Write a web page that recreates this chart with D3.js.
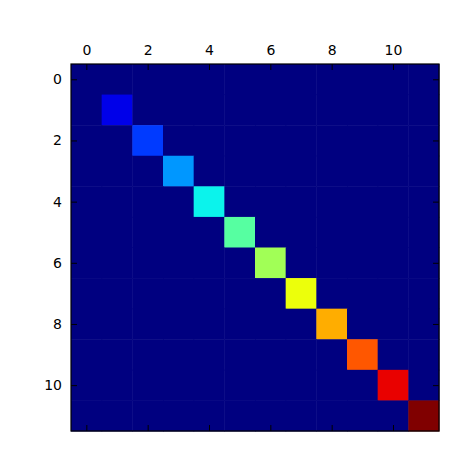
<!DOCTYPE html><html><head><script src="https://cdn.jsdelivr.net/npm/d3@7"></script>
<style>body{margin:0;background:#fff}</style></head><body><svg id="c" width="474" height="474"></svg>
<script>
const n = 12;
const diagValues = [0,1,2,3,4,5,6,7,8,9,10,11];
const tickValues = [0,2,4,6,8,10];
const matrix = [];
for (let r=0;r<n;r++) for (let c=0;c<n;c++) matrix.push({r,c,v: r===c ? diagValues[r] : 0});
function seg(pts,x){for(let i=1;i<pts.length;i++){if(x<=pts[i][0]){const [x0,y0]=pts[i-1],[x1,y1]=pts[i];return y0+(y1-y0)*(x-x0)/(x1-x0);}}return pts[pts.length-1][1];}
function jet(t){
  const r=seg([[0,0],[0.35,0],[0.66,1],[0.89,1],[1,0.5]],t);
  const g=seg([[0,0],[0.125,0],[0.375,1],[0.64,1],[0.91,0],[1,0]],t);
  const b=seg([[0,0.5],[0.11,1],[0.34,1],[0.65,0],[1,0]],t);
  return d3.rgb(r*255,g*255,b*255).toString();
}
const L=71,T=64,W=368,H=367;
const svg=d3.select('#c');
const x=d3.scaleLinear().domain([-0.5,n-0.5]).range([L,L+W]);
const y=d3.scaleLinear().domain([-0.5,n-0.5]).range([T,T+H]);
const col=d3.scaleLinear().domain([0,11]).range([0,1]);
svg.selectAll('rect.cell').data(matrix).join('rect').attr('x',d=>x(d.c-0.5)).attr('y',d=>y(d.r-0.5))
  .attr('width',x(1)-x(0)+0.5).attr('height',y(1)-y(0)+0.5).attr('fill',d=>jet(col(d.v)));
const fs='14px "DejaVu Sans"';
const ax=d3.axisTop(x).tickValues(tickValues).tickSize(-6).tickPadding(9);
const g1=svg.append('g').attr('transform',`translate(0,${T})`).call(ax);
const ab=d3.axisBottom(x).tickValues(tickValues).tickSize(-6).tickFormat('');
const g2=svg.append('g').attr('transform',`translate(0,${T+H})`).call(ab);
const ay=d3.axisLeft(y).tickValues(tickValues).tickSize(-6).tickPadding(9);
const g3=svg.append('g').attr('transform',`translate(${L},0)`).call(ay);
const ar=d3.axisRight(y).tickValues(tickValues).tickSize(-6).tickFormat('');
const g4=svg.append('g').attr('transform',`translate(${L+W},0)`).call(ar);
[g1,g2,g3,g4].forEach(g=>{g.select('.domain').remove();g.selectAll('line').attr('stroke','#000');g.selectAll('text').style('font',fs).attr('fill','#000');});
svg.append('rect').attr('x',L).attr('y',T).attr('width',W).attr('height',H).attr('fill','none').attr('stroke','#000').attr('stroke-width',1.2);
</script></body></html>
